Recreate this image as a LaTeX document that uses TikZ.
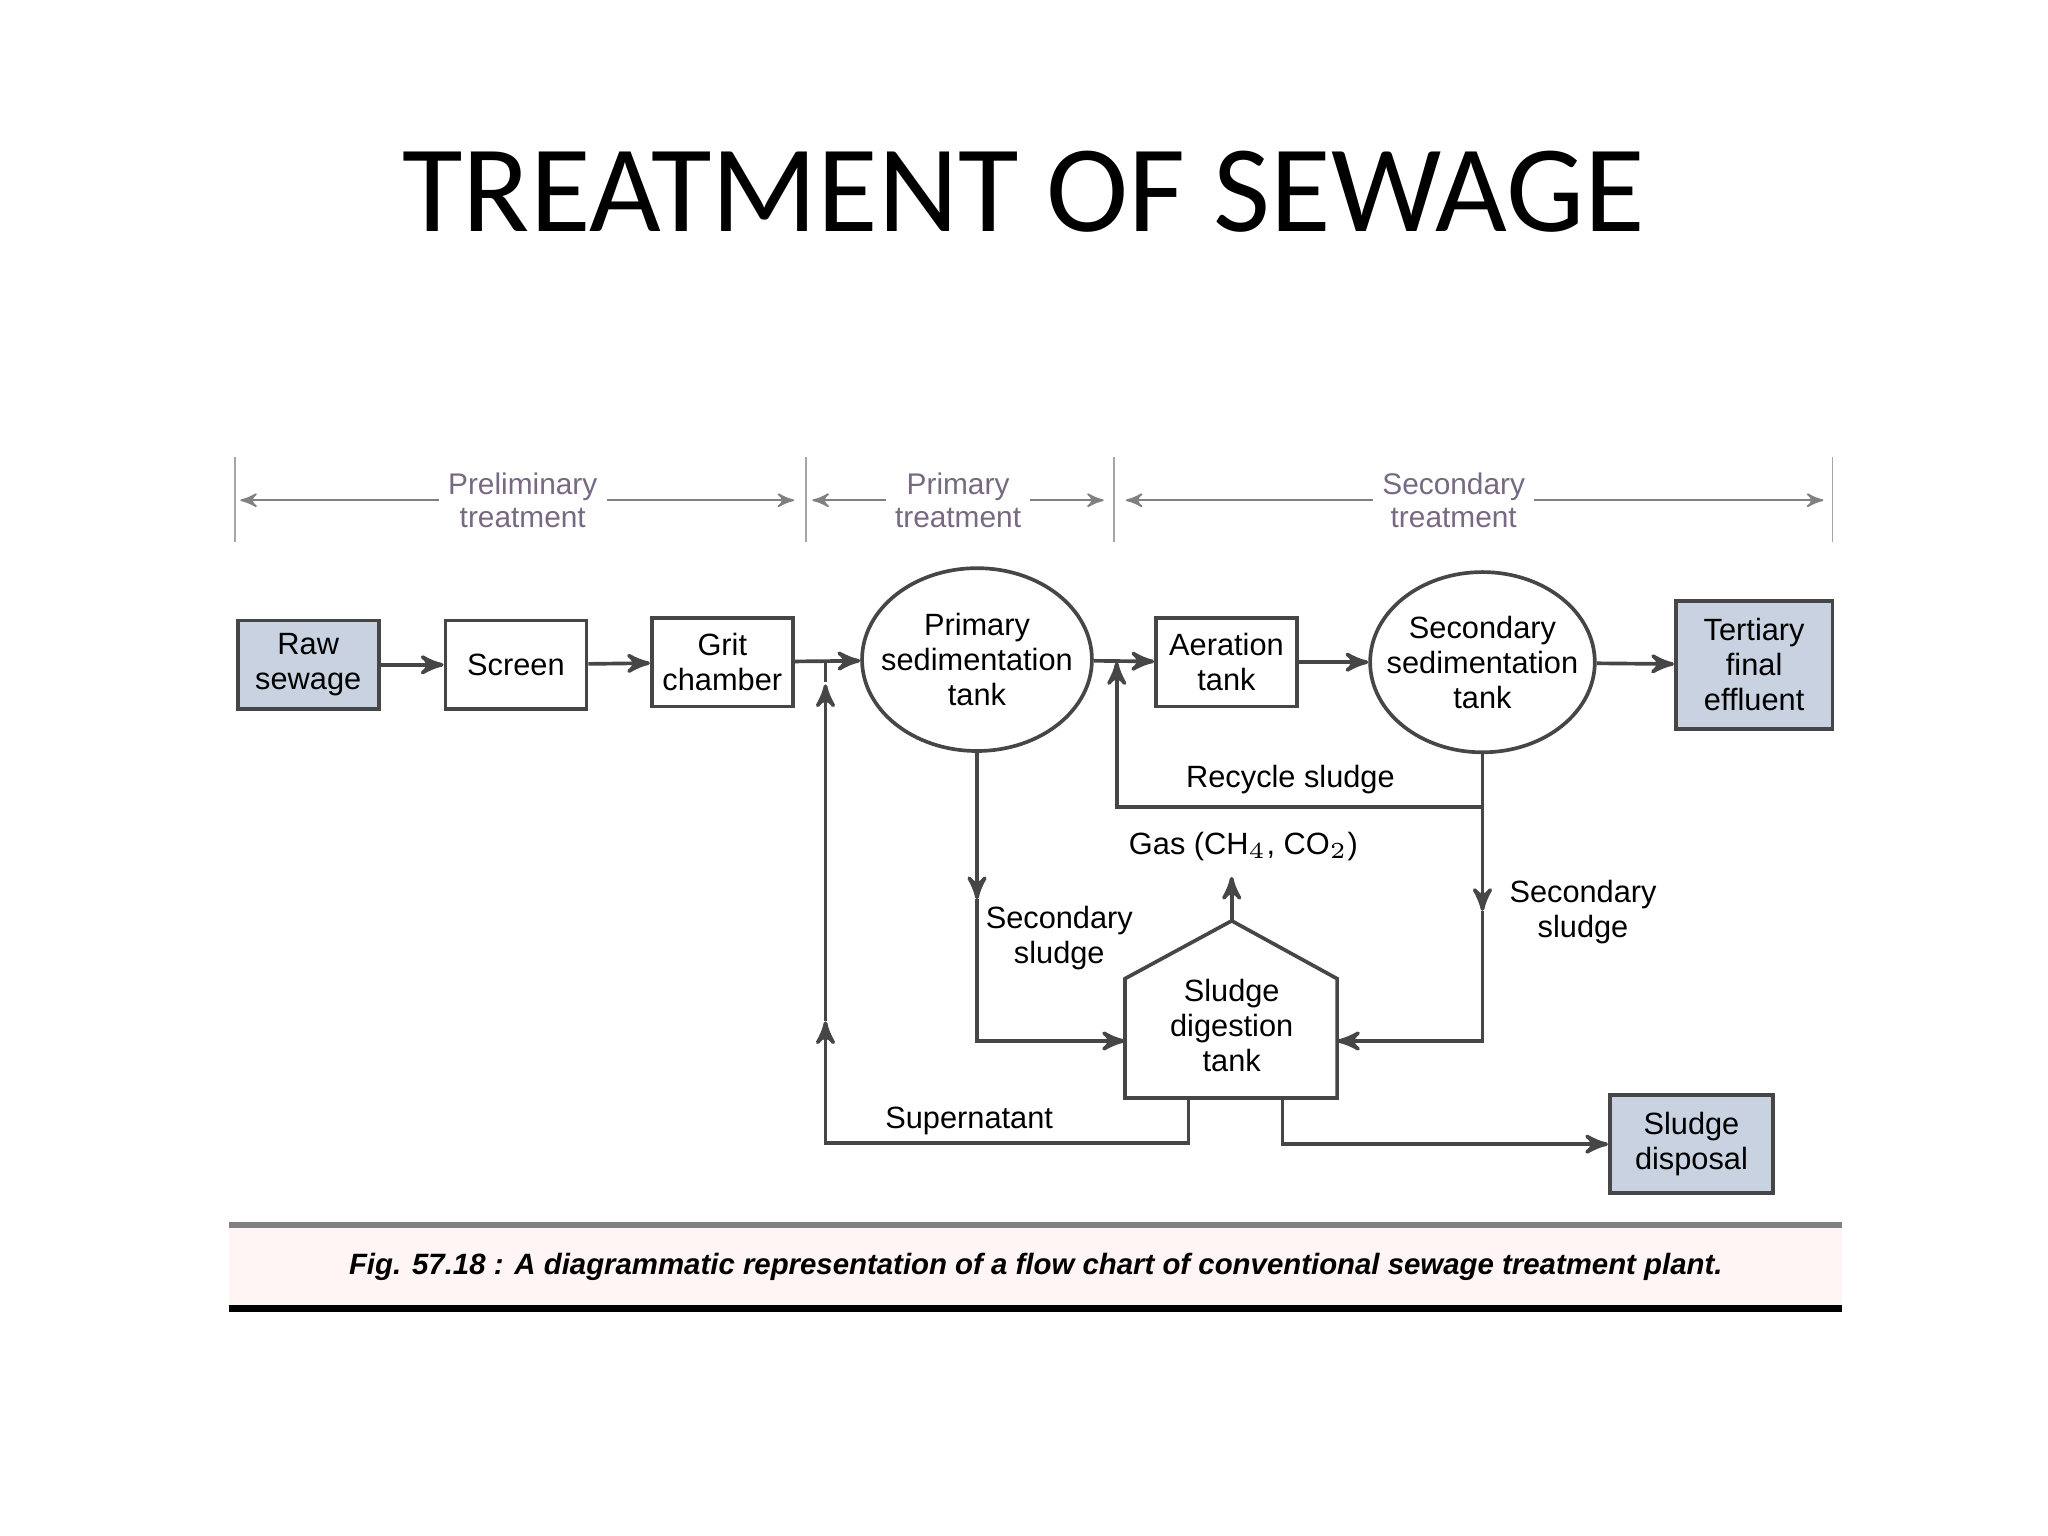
\documentclass[tikz,border=0pt]{standalone}
\usepackage{fontspec}
\setmainfont{Liberation Sans}
\newfontfamily\titlefont{Carlito}
\usetikzlibrary{arrows,shapes,positioning,calc}
\definecolor{boxblue}{RGB}{200,210,224}
\definecolor{lineg}{RGB}{70,70,70}
\definecolor{headg}{RGB}{120,105,130}
\begin{document}
\begin{tikzpicture}[x=1cm,y=1cm,>=stealth',font=\fontsize{6.7}{7.6}\selectfont]

  \tikzstyle{box}=[rectangle,draw=lineg,thick,minimum width=1.08cm,
                   minimum height=0.68cm,align=center,inner sep=1pt]
  \tikzstyle{blue box}=[box,fill=boxblue]
  \tikzstyle{tank}=[ellipse,draw=lineg,thick,inner sep=0pt]
  \tikzstyle{flow}=[draw=lineg,thick]
  \tikzstyle{head}=[headg,align=center,fill=white,inner sep=2pt,
                    font=\fontsize{6.5}{7.2}\selectfont]

  \useasboundingbox (0,0) rectangle (15.68,-11.76);

  % Title
  \node (title) at (7.84,-1.47) {\titlefont\fontsize{27}{30}\selectfont TREATMENT OF SEWAGE};

  % Stage header
  \foreach \x/\n in {1.80/t1,6.17/t2,8.53/t3,14.03/t4}
    \draw [gray!70] (\x,-3.50) -- (\x,-4.15) coordinate (\n);
  \coordinate (h1) at (1.84,-3.83);  \coordinate (h2) at (6.08,-3.83);
  \coordinate (h3) at (6.22,-3.83);  \coordinate (h4) at (8.45,-3.83);
  \coordinate (h5) at (8.62,-3.83);  \coordinate (h6) at (13.96,-3.83);
  \draw [<->,gray] (h1) -- (h2) node [head,pos=0.51] (prel) {Preliminary\\treatment};
  \draw [<->,gray] (h3) -- (h4) node [head,midway] (prim) {Primary\\treatment};
  \draw [<->,gray] (h5) -- (h6) node [head,pos=0.47] (seco) {Secondary\\treatment};

  % Main line
  \node [blue box] (raw)    at (2.36,-5.09) {Raw\\sewage};
  \node [box]      (screen) at (3.95,-5.09) {Screen};
  \node [box]      (grit)   at (5.53,-5.07) {Grit\\chamber};
  \node [tank,minimum width=1.76cm,minimum height=1.40cm]
                   (pst)    at (7.48,-5.05) {};
  \node [align=center] (psttxt) at (pst) {Primary\\sedimentation\\tank};
  \node [box]      (aer)    at (9.39,-5.07) {Aeration\\tank};
  \node [tank,minimum width=1.72cm,minimum height=1.38cm]
                   (sst)    at (11.35,-5.07) {};
  \node [align=center] (ssttxt) at (sst) {Secondary\\sedimentation\\tank};
  \node [blue box,minimum width=1.20cm,minimum height=0.98cm]
                   (tert)   at (13.43,-5.09) {Tertiary\\final\\effluent};

  % Sludge side
  \node [minimum width=1.61cm,minimum height=0.90cm,inner sep=0pt]
                   (dig)    at (9.425,-7.95) {};
  \coordinate (peak) at (9.43,-7.05);
  \draw [flow] (dig.south west) -- (dig.north west) -- (peak)
               -- (dig.north east) -- (dig.south east) -- cycle;
  \node [align=center] (digtxt) at (9.43,-7.85) {Sludge\\digestion\\tank};
  \node [blue box,minimum width=1.25cm,minimum height=0.75cm]
                   (disp)   at (12.95,-8.76) {Sludge\\disposal};
  \node (gas) at (9.52,-6.48) {Gas (CH$_4$, CO$_2$)};

  % Junctions
  \coordinate (j1) at (6.32,-5.07);
  \coordinate (j2) at (8.55,-5.07);

  \draw [flow,->] (raw) -- (screen);
  \draw [flow,->] (screen) -- (grit);
  \draw [flow,->] (grit) -- (pst);
  \draw [flow,->] (pst) -- (aer);
  \draw [flow,->] (aer) -- (sst);
  \draw [flow,->] (sst) -- (tert);
  \draw [flow,->] (peak) -- (peak |- gas.south);

  % Primary sludge
  \draw [flow,->] (pst.south) -- ++(0,-1.12) coordinate (m1);
  \draw [flow,->] (m1) |- (dig.west |- 0,-7.97);
  \node [align=center] (lab1) at (8.11,-7.18) {Secondary\\sludge};

  % Secondary sludge
  \draw [flow,->] (sst.south) -- ++(0,-1.20) coordinate (m2);
  \draw [flow,->] (m2) |- (dig.east |- 0,-7.97);
  \node [align=center] (lab2) at (12.12,-6.98) {Secondary\\sludge};

  % Recycle sludge
  \coordinate (r1) at (11.35,-6.18);
  \draw [flow,->] (r1) -| (j2);
  \node (lab3) at (9.88,-5.97) {Recycle sludge};

  % Supernatant
  \coordinate (s1) at (9.10,-8.40);
  \draw [flow,->] (s1) |- (6.32,-8.75) -- (6.32,-7.82) coordinate (m3);
  \draw [flow,->] (m3) -- ($(j1)+(0,-0.17)$);
  \draw [flow] ($(j1)+(0,-0.15)$) -- (j1);
  \node (lab4) at (7.42,-8.58) {Supernatant};

  % Disposal
  \coordinate (s2) at (9.82,-8.40);
  \draw [flow,->] (s2) |- (disp.west);

  % Caption
  \fill [red!4] (1.75,-9.40) rectangle (14.10,-10.02);
  \draw [gray,line width=1.2pt] (1.75,-9.38) -- (14.10,-9.38);
  \draw [black,line width=1.5pt] (1.75,-10.02) -- (14.10,-10.02);
  \node (cap) at (7.93,-9.70) {\bfseries\itshape\fontsize{6.4}{7}\selectfont
    Fig. 57.18 : A diagrammatic representation of a flow chart of conventional sewage treatment plant.};
\end{tikzpicture}
\end{document}
